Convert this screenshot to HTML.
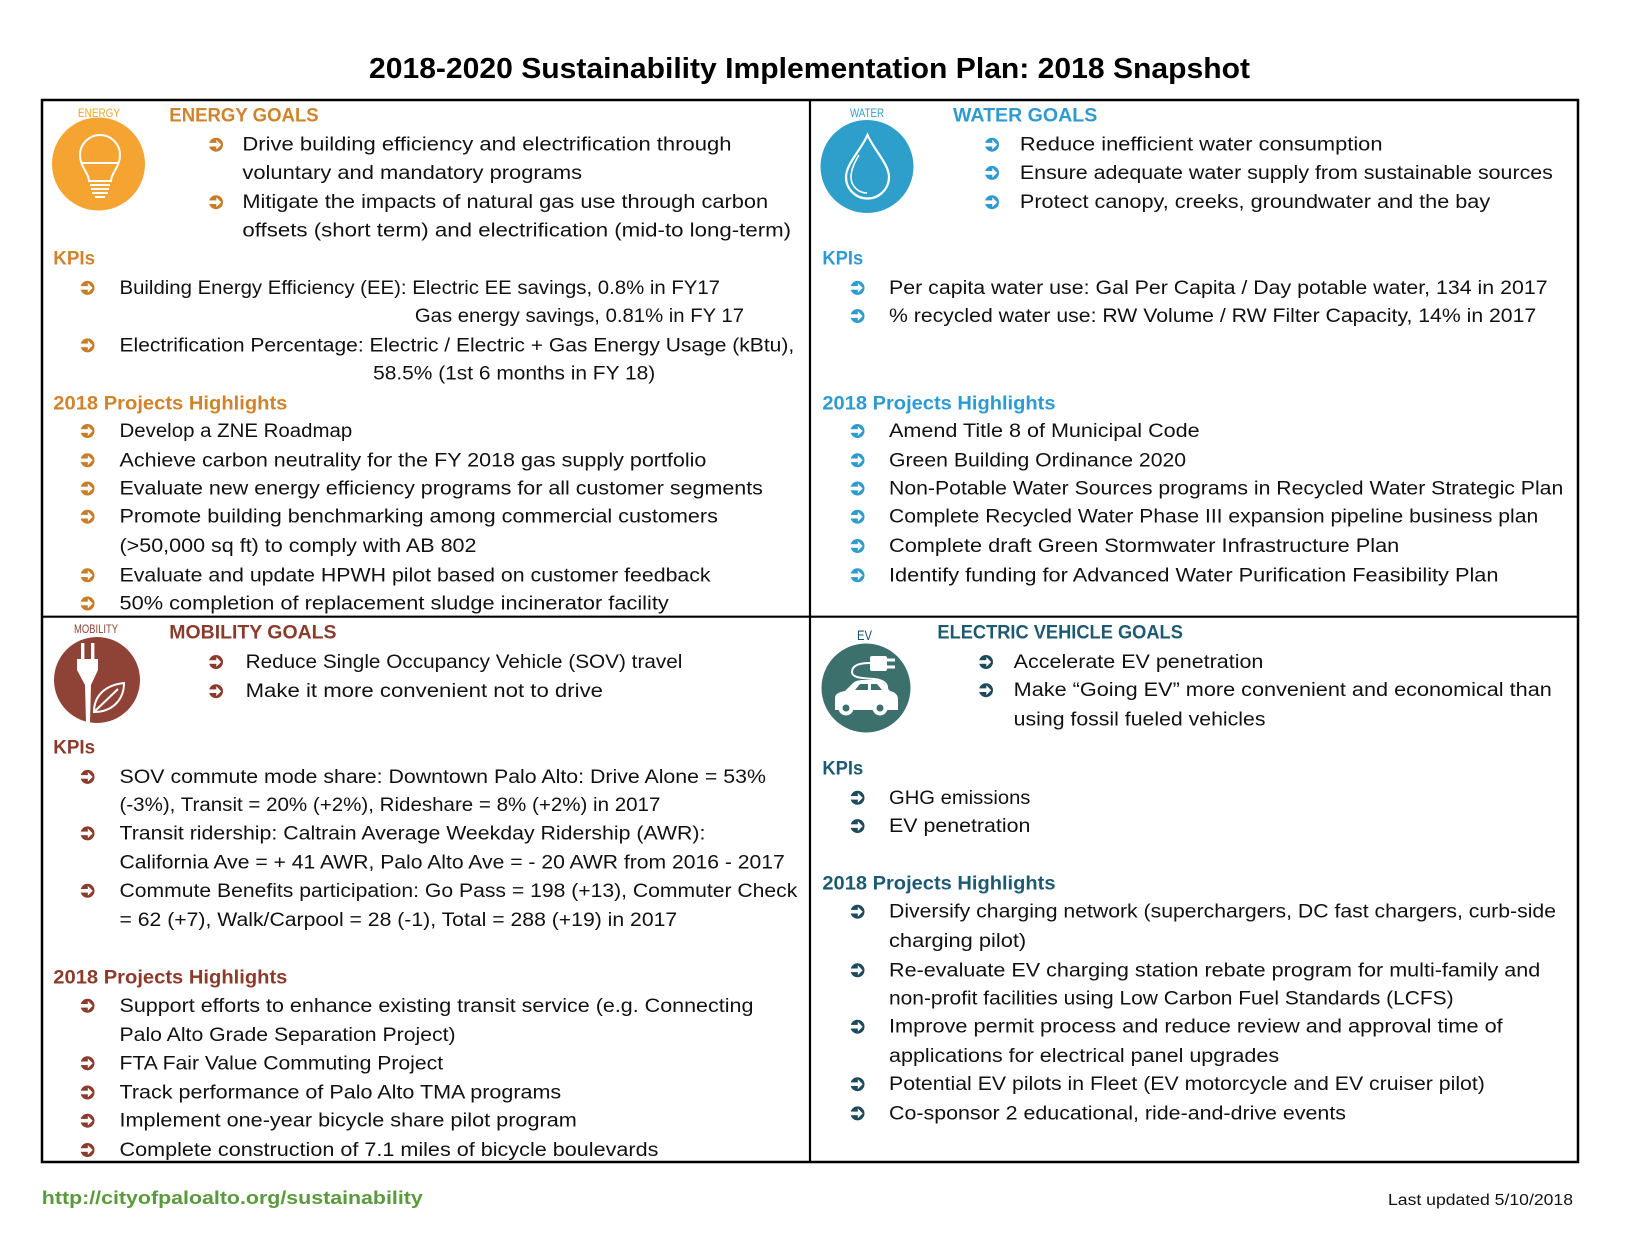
<!DOCTYPE html>
<html>
<head>
<meta charset="utf-8">
<style>
html,body{margin:0;padding:0;background:#fff;}
svg{display:block;}
text{font-family:"Liberation Sans",sans-serif;}
.t{font-size:19px;fill:#111;}
.h{font-size:19px;font-weight:bold;}
.en{fill:#D0832A;color:#C87C25;}
.wa{fill:#2E9BD0;color:#2E9BD0;}
.mo{fill:#8B3A2B;color:#8B3A2B;}
.ev{fill:#1D5A72;color:#1E4A5E;}
</style>
</head>
<body>
<svg width="1638" height="1246" viewBox="0 0 1638 1246" xmlns="http://www.w3.org/2000/svg">
<defs>
<g id="b">
<circle cx="0" cy="0" r="7" fill="currentColor"/>
<rect x="-8" y="-1.8" width="8.5" height="3.6" fill="#fff"/>
<polygon points="0.3,-4.9 5.2,0 0.3,4.9" fill="#fff"/>
</g>
</defs>
<rect x="0" y="0" width="1638" height="1246" fill="#fff"/>

<!-- Title -->
<text x="369" y="78" font-size="29" font-weight="bold" fill="#000" textLength="881" lengthAdjust="spacingAndGlyphs">2018-2020 Sustainability Implementation Plan: 2018 Snapshot</text>

<!-- Frame -->
<rect x="42" y="100" width="1536" height="1062" fill="none" stroke="#000" stroke-width="2.5"/>
<line x1="810" y1="100" x2="810" y2="1162" stroke="#000" stroke-width="2.2"/>
<line x1="42" y1="616.7" x2="1578" y2="616.7" stroke="#000" stroke-width="2.2"/>

<!-- ============ ENERGY ============ -->
<text x="78" y="117" font-size="12" fill="#F5A431" textLength="42" lengthAdjust="spacingAndGlyphs">ENERGY</text>
<circle cx="98.5" cy="164" r="46.5" fill="#F5A431"/>
<g fill="none" stroke="#fff" stroke-width="2">
<path d="M89 181 C89 173 80 167 80 155 A20 20 0 1 1 120 155 C120 167 111 173 111 181 Z"/>
<line x1="81" y1="163" x2="119" y2="163"/>
<line x1="90" y1="185" x2="110" y2="185"/>
<line x1="91" y1="189" x2="109" y2="189"/>
<line x1="92" y1="193" x2="108" y2="193"/>
<line x1="95" y1="197" x2="105" y2="197"/>
</g>

<g class="en">
<text class="h" x="169.3" y="121.5" textLength="149.4" lengthAdjust="spacingAndGlyphs">ENERGY GOALS</text>
<text class="h" x="53.3" y="264.6" textLength="41.8" lengthAdjust="spacingAndGlyphs">KPIs</text>
<text class="h" x="53.3" y="409.5" textLength="234.1" lengthAdjust="spacingAndGlyphs">2018 Projects Highlights</text>
<use href="#b" x="216" y="144.7"/>
<use href="#b" x="216" y="202.2"/>
<use href="#b" x="87.5" y="287.9"/>
<use href="#b" x="87.5" y="345.4"/>
<use href="#b" x="87.5" y="431"/>
<use href="#b" x="87.5" y="460.3"/>
<use href="#b" x="87.5" y="488.5"/>
<use href="#b" x="87.5" y="516.7"/>
<use href="#b" x="87.5" y="575.3"/>
<use href="#b" x="87.5" y="603.5"/>
</g>
<g class="t">
<text x="242.4" y="150.7" textLength="489.1" lengthAdjust="spacingAndGlyphs">Drive building efficiency and electrification through</text>
<text x="242.4" y="178.9" textLength="339.7" lengthAdjust="spacingAndGlyphs">voluntary and mandatory programs</text>
<text x="242.4" y="208.2" textLength="525.7" lengthAdjust="spacingAndGlyphs">Mitigate the impacts of natural gas use through carbon</text>
<text x="242.4" y="236.4" textLength="548.7" lengthAdjust="spacingAndGlyphs">offsets (short term) and electrification (mid-to long-term)</text>
<text x="119.5" y="293.9" textLength="600.5" lengthAdjust="spacingAndGlyphs">Building Energy Efficiency (EE): Electric EE savings, 0.8% in FY17</text>
<text x="414.9" y="322.1" textLength="329.1" lengthAdjust="spacingAndGlyphs">Gas energy savings, 0.81% in FY 17</text>
<text x="119.5" y="351.4" textLength="674.7" lengthAdjust="spacingAndGlyphs">Electrification Percentage: Electric / Electric + Gas Energy Usage (kBtu),</text>
<text x="373.1" y="379.6" textLength="282.1" lengthAdjust="spacingAndGlyphs">58.5% (1st 6 months in FY 18)</text>
<text x="119.5" y="437" textLength="232.7" lengthAdjust="spacingAndGlyphs">Develop a ZNE Roadmap</text>
<text x="119.5" y="466.3" textLength="586.9" lengthAdjust="spacingAndGlyphs">Achieve carbon neutrality for the FY 2018 gas supply portfolio</text>
<text x="119.5" y="494.5" textLength="643.4" lengthAdjust="spacingAndGlyphs">Evaluate new energy efficiency programs for all customer segments</text>
<text x="119.5" y="522.7" textLength="598.4" lengthAdjust="spacingAndGlyphs">Promote building benchmarking among commercial customers</text>
<text x="119.5" y="552" textLength="357" lengthAdjust="spacingAndGlyphs">(&gt;50,000 sq ft) to comply with AB 802</text>
<text x="119.5" y="581.3" textLength="591.1" lengthAdjust="spacingAndGlyphs">Evaluate and update HPWH pilot based on customer feedback</text>
<text x="119.5" y="609.5" textLength="549.3" lengthAdjust="spacingAndGlyphs">50% completion of replacement sludge incinerator facility</text>
</g>

<!-- ============ WATER ============ -->
<text x="850" y="117" font-size="12" fill="#2E9FCB" textLength="34" lengthAdjust="spacingAndGlyphs">WATER</text>
<circle cx="867" cy="166.5" r="46.5" fill="#2E9FCB"/>
<g fill="none" stroke="#fff" stroke-width="2.2">
<path d="M867.5 135 C861 150 846 164 846 177 A21.5 21.5 0 0 0 889 177 C889 164 874 150 867.5 135 Z"/>
<path d="M859 155 C854 163 851 170 851 177 A16 16 0 0 0 867 193" stroke-width="1.6"/>
</g>

<g class="wa">
<text class="h" x="953" y="121.5" textLength="144.3" lengthAdjust="spacingAndGlyphs">WATER GOALS</text>
<text class="h" x="822.4" y="264.6" textLength="40.8" lengthAdjust="spacingAndGlyphs">KPIs</text>
<text class="h" x="822.4" y="409.5" textLength="233.1" lengthAdjust="spacingAndGlyphs">2018 Projects Highlights</text>
<use href="#b" x="992" y="144.7"/>
<use href="#b" x="992" y="172.9"/>
<use href="#b" x="992" y="202.2"/>
<use href="#b" x="857.5" y="287.9"/>
<use href="#b" x="857.5" y="316.1"/>
<use href="#b" x="857.5" y="431"/>
<use href="#b" x="857.5" y="460.3"/>
<use href="#b" x="857.5" y="488.5"/>
<use href="#b" x="857.5" y="516.7"/>
<use href="#b" x="857.5" y="546"/>
<use href="#b" x="857.5" y="575.3"/>
</g>
<g class="t">
<text x="1019.9" y="150.7" textLength="362.6" lengthAdjust="spacingAndGlyphs">Reduce inefficient water consumption</text>
<text x="1019.9" y="178.9" textLength="533" lengthAdjust="spacingAndGlyphs">Ensure adequate water supply from sustainable sources</text>
<text x="1019.9" y="208.2" textLength="470.3" lengthAdjust="spacingAndGlyphs">Protect canopy, creeks, groundwater and the bay</text>
<text x="889" y="293.9" textLength="658.6" lengthAdjust="spacingAndGlyphs">Per capita water use: Gal Per Capita / Day potable water, 134 in 2017</text>
<text x="889" y="322.1" textLength="647.2" lengthAdjust="spacingAndGlyphs">% recycled water use: RW Volume / RW Filter Capacity, 14% in 2017</text>
<text x="889" y="437" textLength="310.7" lengthAdjust="spacingAndGlyphs">Amend Title 8 of Municipal Code</text>
<text x="889" y="466.3" textLength="297.1" lengthAdjust="spacingAndGlyphs">Green Building Ordinance 2020</text>
<text x="889" y="494.5" textLength="674.3" lengthAdjust="spacingAndGlyphs">Non-Potable Water Sources programs in Recycled Water Strategic Plan</text>
<text x="889" y="522.7" textLength="649.2" lengthAdjust="spacingAndGlyphs">Complete Recycled Water Phase III expansion pipeline business plan</text>
<text x="889" y="552" textLength="510.3" lengthAdjust="spacingAndGlyphs">Complete draft Green Stormwater Infrastructure Plan</text>
<text x="889" y="581.3" textLength="609.5" lengthAdjust="spacingAndGlyphs">Identify funding for Advanced Water Purification Feasibility Plan</text>
</g>

<!-- ============ MOBILITY ============ -->
<text x="74" y="633" font-size="12" fill="#8E4336" textLength="44" lengthAdjust="spacingAndGlyphs">MOBILITY</text>
<circle cx="97" cy="680" r="43" fill="#8E4336"/>
<g fill="#fff">
<rect x="81" y="643" width="3.4" height="16"/>
<rect x="91" y="643" width="3.4" height="16"/>
<path d="M77 659 L98 659 L98 670 L91 685 L90 722 L86 722 L85 685 L77 670 Z"/>
</g>
<g fill="none" stroke="#fff" stroke-width="2">
<path d="M94 712 C94 695 106 685 124 683 C124 700 112 712 94 712 Z"/>
<line x1="94" y1="712" x2="118" y2="689"/>
</g>

<g class="mo">
<text class="h" x="169.3" y="638.7" textLength="167.2" lengthAdjust="spacingAndGlyphs">MOBILITY GOALS</text>
<text class="h" x="53.3" y="753.7" textLength="41.8" lengthAdjust="spacingAndGlyphs">KPIs</text>
<text class="h" x="53.3" y="983.6" textLength="234.1" lengthAdjust="spacingAndGlyphs">2018 Projects Highlights</text>
<use href="#b" x="216" y="662"/>
<use href="#b" x="216" y="691.2"/>
<use href="#b" x="87.5" y="776.9"/>
<use href="#b" x="87.5" y="833.4"/>
<use href="#b" x="87.5" y="890.8"/>
<use href="#b" x="87.5" y="1005.8"/>
<use href="#b" x="87.5" y="1063.3"/>
<use href="#b" x="87.5" y="1092.5"/>
<use href="#b" x="87.5" y="1120.7"/>
<use href="#b" x="87.5" y="1150"/>
</g>
<g class="t">
<text x="245.6" y="668" textLength="436.8" lengthAdjust="spacingAndGlyphs">Reduce Single Occupancy Vehicle (SOV) travel</text>
<text x="245.6" y="697.2" textLength="357.4" lengthAdjust="spacingAndGlyphs">Make it more convenient not to drive</text>
<text x="119.5" y="782.9" textLength="646.5" lengthAdjust="spacingAndGlyphs">SOV commute mode share: Downtown Palo Alto: Drive Alone = 53%</text>
<text x="119.5" y="811.2" textLength="540.9" lengthAdjust="spacingAndGlyphs">(-3%), Transit = 20% (+2%), Rideshare = 8% (+2%) in 2017</text>
<text x="119.5" y="839.4" textLength="585.9" lengthAdjust="spacingAndGlyphs">Transit ridership: Caltrain Average Weekday Ridership (AWR):</text>
<text x="119.5" y="868.6" textLength="665.3" lengthAdjust="spacingAndGlyphs">California Ave = + 41 AWR, Palo Alto Ave = - 20 AWR from 2016 - 2017</text>
<text x="119.5" y="896.8" textLength="677.8" lengthAdjust="spacingAndGlyphs">Commute Benefits participation: Go Pass = 198 (+13), Commuter Check</text>
<text x="119.5" y="926.1" textLength="557.7" lengthAdjust="spacingAndGlyphs">= 62 (+7), Walk/Carpool = 28 (-1), Total = 288 (+19) in 2017</text>
<text x="119.5" y="1011.8" textLength="633.9" lengthAdjust="spacingAndGlyphs">Support efforts to enhance existing transit service (e.g. Connecting</text>
<text x="119.5" y="1041.1" textLength="336.1" lengthAdjust="spacingAndGlyphs">Palo Alto Grade Separation Project)</text>
<text x="119.5" y="1069.3" textLength="323.6" lengthAdjust="spacingAndGlyphs">FTA Fair Value Commuting Project</text>
<text x="119.5" y="1098.5" textLength="441.7" lengthAdjust="spacingAndGlyphs">Track performance of Palo Alto TMA programs</text>
<text x="119.5" y="1126.7" textLength="457.3" lengthAdjust="spacingAndGlyphs">Implement one-year bicycle share pilot program</text>
<text x="119.5" y="1156" textLength="538.9" lengthAdjust="spacingAndGlyphs">Complete construction of 7.1 miles of bicycle boulevards</text>
</g>

<!-- ============ EV ============ -->
<text x="857" y="640" font-size="14" fill="#1D4E6B" textLength="15" lengthAdjust="spacingAndGlyphs">EV</text>
<circle cx="866" cy="688" r="44.5" fill="#3B706C"/>
<g fill="#fff">
<rect x="870" y="656" width="17" height="15" rx="2"/>
<rect x="887" y="658.5" width="8" height="3"/>
<rect x="887" y="665.5" width="8" height="3"/>
<path d="M835 710 L835 698 C835 694 839 692 845 691 L852 684 C855 681 858 680 864 680 L875 680 C880 680 883 682 886 686 L890 691 C895 692 898 695 898 699 L898 710 Z"/>
</g>
<g fill="none" stroke="#fff" stroke-width="2">
<path d="M870 663 C856 663 852 667 852 672 C852 678 862 678 874 679 C884 680 888 684 887 690"/>
</g>
<circle cx="846" cy="708" r="7.5" fill="#fff"/>
<circle cx="846" cy="708" r="3.5" fill="#3B706C"/>
<circle cx="880" cy="708" r="7.5" fill="#fff"/>
<circle cx="880" cy="708" r="3.5" fill="#3B706C"/>
<path d="M855 690 L860 684 L868 684 L868 690 Z M871 684 L877 684 L882 690 L871 690 Z" fill="#3B706C"/>

<g class="ev">
<text class="h" x="937.4" y="638.7" textLength="245.5" lengthAdjust="spacingAndGlyphs">ELECTRIC VEHICLE GOALS</text>
<text class="h" x="822.4" y="774.6" textLength="40.8" lengthAdjust="spacingAndGlyphs">KPIs</text>
<text class="h" x="822.4" y="889.5" textLength="233.1" lengthAdjust="spacingAndGlyphs">2018 Projects Highlights</text>
<use href="#b" x="986" y="662"/>
<use href="#b" x="986" y="690.2"/>
<use href="#b" x="857.5" y="797.8"/>
<use href="#b" x="857.5" y="826.1"/>
<use href="#b" x="857.5" y="911.7"/>
<use href="#b" x="857.5" y="970.3"/>
<use href="#b" x="857.5" y="1026.7"/>
<use href="#b" x="857.5" y="1084.2"/>
<use href="#b" x="857.5" y="1113.4"/>
</g>
<g class="t">
<text x="1013.7" y="668" textLength="249.7" lengthAdjust="spacingAndGlyphs">Accelerate EV penetration</text>
<text x="1013.7" y="696.2" textLength="538.1" lengthAdjust="spacingAndGlyphs">Make “Going EV” more convenient and economical than</text>
<text x="1013.7" y="725.5" textLength="251.8" lengthAdjust="spacingAndGlyphs">using fossil fueled vehicles</text>
<text x="889" y="803.8" textLength="141.4" lengthAdjust="spacingAndGlyphs">GHG emissions</text>
<text x="889" y="832.1" textLength="141.4" lengthAdjust="spacingAndGlyphs">EV penetration</text>
<text x="889" y="917.7" textLength="667" lengthAdjust="spacingAndGlyphs">Diversify charging network (superchargers, DC fast chargers, curb-side</text>
<text x="889" y="947" textLength="137.2" lengthAdjust="spacingAndGlyphs">charging pilot)</text>
<text x="889" y="976.3" textLength="651.3" lengthAdjust="spacingAndGlyphs">Re-evaluate EV charging station rebate program for multi-family and</text>
<text x="889" y="1004.5" textLength="564.6" lengthAdjust="spacingAndGlyphs">non-profit facilities using Low Carbon Fuel Standards (LCFS)</text>
<text x="889" y="1032.7" textLength="613.7" lengthAdjust="spacingAndGlyphs">Improve permit process and reduce review and approval time of</text>
<text x="889" y="1062" textLength="390.1" lengthAdjust="spacingAndGlyphs">applications for electrical panel upgrades</text>
<text x="889" y="1090.2" textLength="595.9" lengthAdjust="spacingAndGlyphs">Potential EV pilots in Fleet (EV motorcycle and EV cruiser pilot)</text>
<text x="889" y="1119.4" textLength="457" lengthAdjust="spacingAndGlyphs">Co-sponsor 2 educational, ride-and-drive events</text>
</g>

<!-- Footer -->
<text x="41.8" y="1204" font-size="18.5" font-weight="bold" fill="#5A9A3C" textLength="381" lengthAdjust="spacingAndGlyphs">http://cityofpaloalto.org/sustainability</text>
<text x="1388" y="1205" font-size="15.5" fill="#111" textLength="185" lengthAdjust="spacingAndGlyphs">Last updated 5/10/2018</text>
</svg>
</body>
</html>
